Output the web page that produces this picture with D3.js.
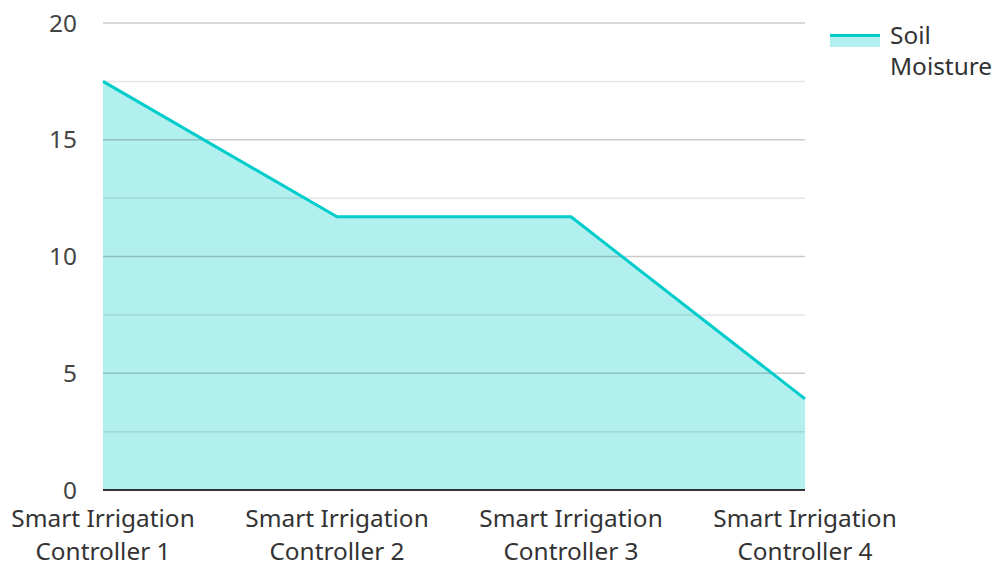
<!DOCTYPE html>
<html>
<head>
<meta charset="utf-8">
<script src="https://cdn.jsdelivr.net/npm/d3@7"></script>
<style>
  body { margin: 0; background: #fff; }
  text { font-family: "Noto Sans", sans-serif; }
</style>
</head>
<body>
<div class="chart"></div>
<script>
const categories = [
    ['Smart Irrigation', 'Controller 1'],
    ['Smart Irrigation', 'Controller 2'],
    ['Smart Irrigation', 'Controller 3'],
    ['Smart Irrigation', 'Controller 4']
];
const soilMoisture = [17.5, 11.7, 11.7, 3.9];
const yTicks = [0, 5, 10, 15, 20];
const yMinorTicks = [2.5, 7.5, 12.5, 17.5];
const seriesName = ['Soil', 'Moisture'];

const width = 995, height = 562;
const margin = { top: 23, right: 190, bottom: 72, left: 103 };
const fontSize = 24.4;

const svg = d3.select('.chart')
    .append('svg')
    .attr('width', width)
    .attr('height', height);

const x = d3.scalePoint()
    .domain(d3.range(categories.length))
    .range([margin.left, width - margin.right]);

const y = d3.scaleLinear()
    .domain([0, 20])
    .range([height - margin.bottom, margin.top]);

const data = soilMoisture.map((v, i) => ({ i, v }));

// area
svg.append('path')
    .datum(data)
    .attr('fill', 'rgba(0,204,204,0.3)')
    .attr('d', d3.area().x(d => x(d.i)).y0(y(0)).y1(d => y(d.v)));

// grid (drawn over the fill)
svg.selectAll('.minor')
    .data(yMinorTicks)
    .enter()
    .append('line')
    .attr('x1', margin.left).attr('x2', width - margin.right)
    .attr('y1', d => y(d)).attr('y2', d => y(d))
    .attr('stroke', 'rgba(0,0,0,0.1)')
    .attr('stroke-width', 1.5);

svg.selectAll('.major')
    .data(yTicks.filter(d => d > 0))
    .enter()
    .append('line')
    .attr('x1', margin.left).attr('x2', width - margin.right)
    .attr('y1', d => y(d)).attr('y2', d => y(d))
    .attr('stroke', 'rgba(0,0,0,0.2)')
    .attr('stroke-width', 1.5);

svg.append('path')
    .datum(data)
    .attr('fill', 'none')
    .attr('stroke', '#00cccc')
    .attr('stroke-width', 3)
    .attr('stroke-linejoin', 'round')
    .attr('d', d3.line().x(d => x(d.i)).y(d => y(d.v)));

// x axis line
svg.append('line')
    .attr('x1', margin.left).attr('x2', width - margin.right)
    .attr('y1', y(0)).attr('y2', y(0))
    .attr('stroke', '#333')
    .attr('stroke-width', 2);

// y tick labels
svg.selectAll('.ylab')
    .data(yTicks)
    .enter()
    .append('text')
    .attr('x', 77)
    .attr('y', d => y(d))
    .attr('dy', '0.35em')
    .attr('text-anchor', 'end')
    .attr('font-size', fontSize)
    .attr('fill', '#444')
    .text(d => d);

// x labels
const xl = svg.selectAll('.xlab')
    .data(categories)
    .enter()
    .append('text')
    .attr('text-anchor', 'middle')
    .attr('font-size', fontSize)
    .attr('fill', '#333');

xl.selectAll('tspan')
    .data((d, i) => d.map(s => ({ s, i })))
    .enter()
    .append('tspan')
    .attr('x', d => x(d.i))
    .attr('y', (d, j) => 527 + j * 33)
    .text(d => d.s);

// legend
const lg = svg.append('g').attr('transform', 'translate(830,34)');
lg.append('rect')
    .attr('x', 0).attr('y', 0).attr('width', 50).attr('height', 13)
    .attr('fill', 'rgba(0,204,204,0.3)');
lg.append('line')
    .attr('x1', 0).attr('x2', 50).attr('y1', 1.5).attr('y2', 1.5)
    .attr('stroke', '#00cccc').attr('stroke-width', 3);
lg.append('text')
    .attr('font-size', fontSize)
    .attr('fill', '#333')
    .selectAll('tspan')
    .data(seriesName)
    .enter()
    .append('tspan')
    .attr('x', 60)
    .attr('y', (d, j) => 10 + j * 31)
    .text(d => d);
</script>
</body>
</html>
